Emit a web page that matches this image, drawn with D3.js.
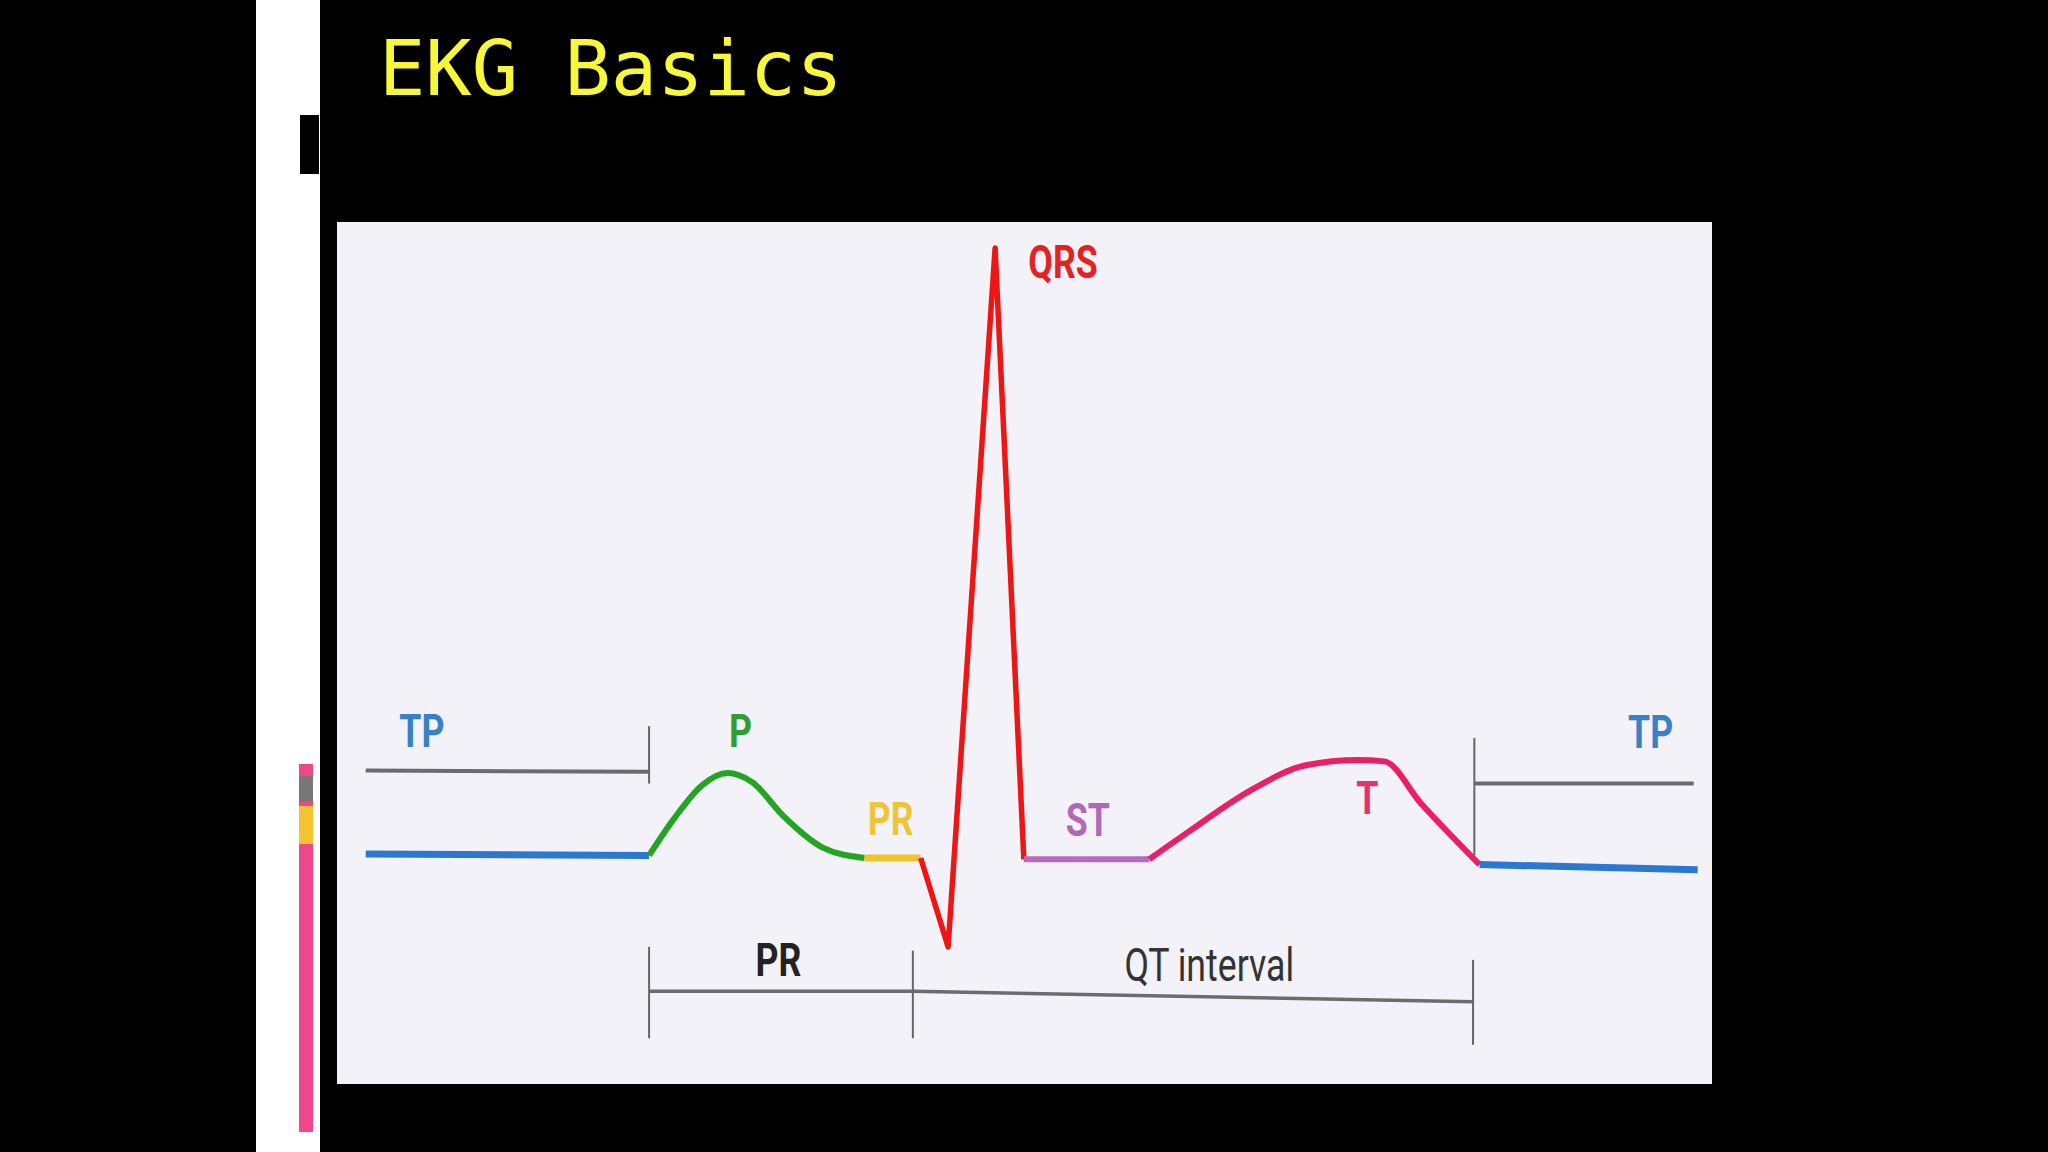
<!DOCTYPE html>
<html>
<head>
<meta charset="utf-8">
<script src="https://cdn.jsdelivr.net/npm/d3@7"></script>
<style>
  body { margin: 0; background: #000; }
  svg { display: block; }
</style>
</head>
<body>
<svg id="chart" width="2048" height="1152"></svg>
<script>
// waveform segments: [time, amplitude]
const tpLeft = [[22, 0.1], [239, 0]];
const pWave = [[239, 0], [258, 2.8], [280, 5.4], [299, 6.3], [318, 5.6], [342, 3], [372, 0.6], [404, -0.2]];
const prSegment = [[404, -0.2], [447, -0.2]];
const qrs = [[447, -0.2], [468, -7], [504, 46.5], [526, -0.3]];
const stSegment = [[526, -0.3], [622, -0.3]];
const tWave = [[622, -0.3], [652, 1.8], [700, 5], [742, 6.9], [782, 7.3], [802, 7.2], [830, 4], [875, -0.7]];
const tpRight = [[875, -0.7], [1042, -1.1]];

// interval brackets
const tpLeftBar = [[22, 6.5], [239, 6.4]];
const tpRightBar = [[871, 5.5], [1039, 5.5]];
const intervalBar = [[239, -10.4], [441, -10.4], [870, -11.2]];
const ticks = [
  {x: 239, y0: 9.9, y1: 5.5}, {x: 871, y0: 9, y1: 0},
  {x: 239, y0: -7, y1: -14}, {x: 441, y0: -7.3, y1: -14}, {x: 870, y0: -8, y1: -14.5}
];

const labels = [
  {text: "TP", x: 65, y: 8.3, color: "#3a80c8"},
  {text: "P", x: 309, y: 8.3, color: "#2e9e2e"},
  {text: "PR", x: 424, y: 1.6, color: "#f0c43a"},
  {text: "QRS", x: 556, y: 44.2, color: "#e52222"},
  {text: "ST", x: 575, y: 1.5, color: "#b068b8"},
  {text: "T", x: 789, y: 3.2, color: "#e8306a"},
  {text: "TP", x: 1006, y: 8.2, color: "#3a80c8"},
  {text: "PR", x: 338, y: -9.2, color: "#222"},
  {text: "QT interval", x: 668, y: -9.6, color: "#333"}
];

const svg = d3.select("#chart");

// side strip
svg.append("rect").attr("x", 256).attr("y", 0).attr("width", 64).attr("height", 1152).attr("fill", "#fff");
svg.append("rect").attr("x", 300).attr("y", 115).attr("width", 19).attr("height", 59).attr("fill", "#000");
svg.append("rect").attr("x", 299).attr("y", 764).attr("width", 14).attr("height", 368).attr("fill", "#f0468c");
svg.append("rect").attr("x", 299).attr("y", 776).attr("width", 14).attr("height", 26).attr("fill", "#777");
svg.append("rect").attr("x", 299).attr("y", 806).attr("width", 14).attr("height", 38).attr("fill", "#f4c430");

svg.append("text").attr("x", 379).attr("y", 95)
  .attr("font-family", "DejaVu Sans Mono").attr("font-size", 77)
  .attr("fill", "#f8f83a").text("EKG Basics");

// panel
svg.append("rect").attr("x", 337).attr("y", 222).attr("width", 1375).attr("height", 862).attr("fill", "#f3f2f8");

const x = d3.scaleLinear().domain([0, 1053]).range([337, 1712]);
const y = d3.scaleLinear().domain([-20, 50]).range([1116.6, 202.4]);

const straight = d3.line().x(d => x(d[0])).y(d => y(d[1]));
const smooth = d3.line().x(d => x(d[0])).y(d => y(d[1])).curve(d3.curveMonotoneX);

const g = svg.append("g");

function bar(data, w) {
  g.append("path").attr("d", straight(data)).attr("fill", "none")
    .attr("stroke", "#555").attr("stroke-width", w).attr("opacity", 0.85);
}
bar(tpLeftBar, 4);
bar(tpRightBar, 4);
bar(intervalBar, 3.5);
g.selectAll(".tick").data(ticks).join("line")
  .attr("x1", d => x(d.x)).attr("x2", d => x(d.x))
  .attr("y1", d => y(d.y0)).attr("y2", d => y(d.y1))
  .attr("stroke", "#666").attr("stroke-width", 2);

function trace(data, color, gen, w) {
  g.append("path").attr("d", gen(data)).attr("fill", "none")
    .attr("stroke", color).attr("stroke-width", w)
    .attr("stroke-linejoin", "round").attr("stroke-linecap", "butt");
}
trace(tpLeft, "#2a78d0", straight, 7);
trace(pWave, "#23a523", smooth, 6);
trace(prSegment, "#f4c22a", straight, 7);
trace(qrs, "#ee1515", straight, 5.5);
trace(stSegment, "#b46cc0", straight, 6);
trace(tWave, "#ea1f66", smooth, 6);
trace(tpRight, "#2a78d0", straight, 7);

g.selectAll(".lbl").data(labels).join("text")
  .attr("transform", d => `translate(${x(d.x)},${y(d.y)}) scale(0.85,1.1)`)
  .attr("text-anchor", "middle")
  .attr("font-family", "Roboto, sans-serif")
  .attr("font-weight", d => d.text === "QT interval" ? "normal" : "bold")
  .attr("font-size", 42)
  .attr("fill", d => d.color).text(d => d.text);
</script>
</body>
</html>
